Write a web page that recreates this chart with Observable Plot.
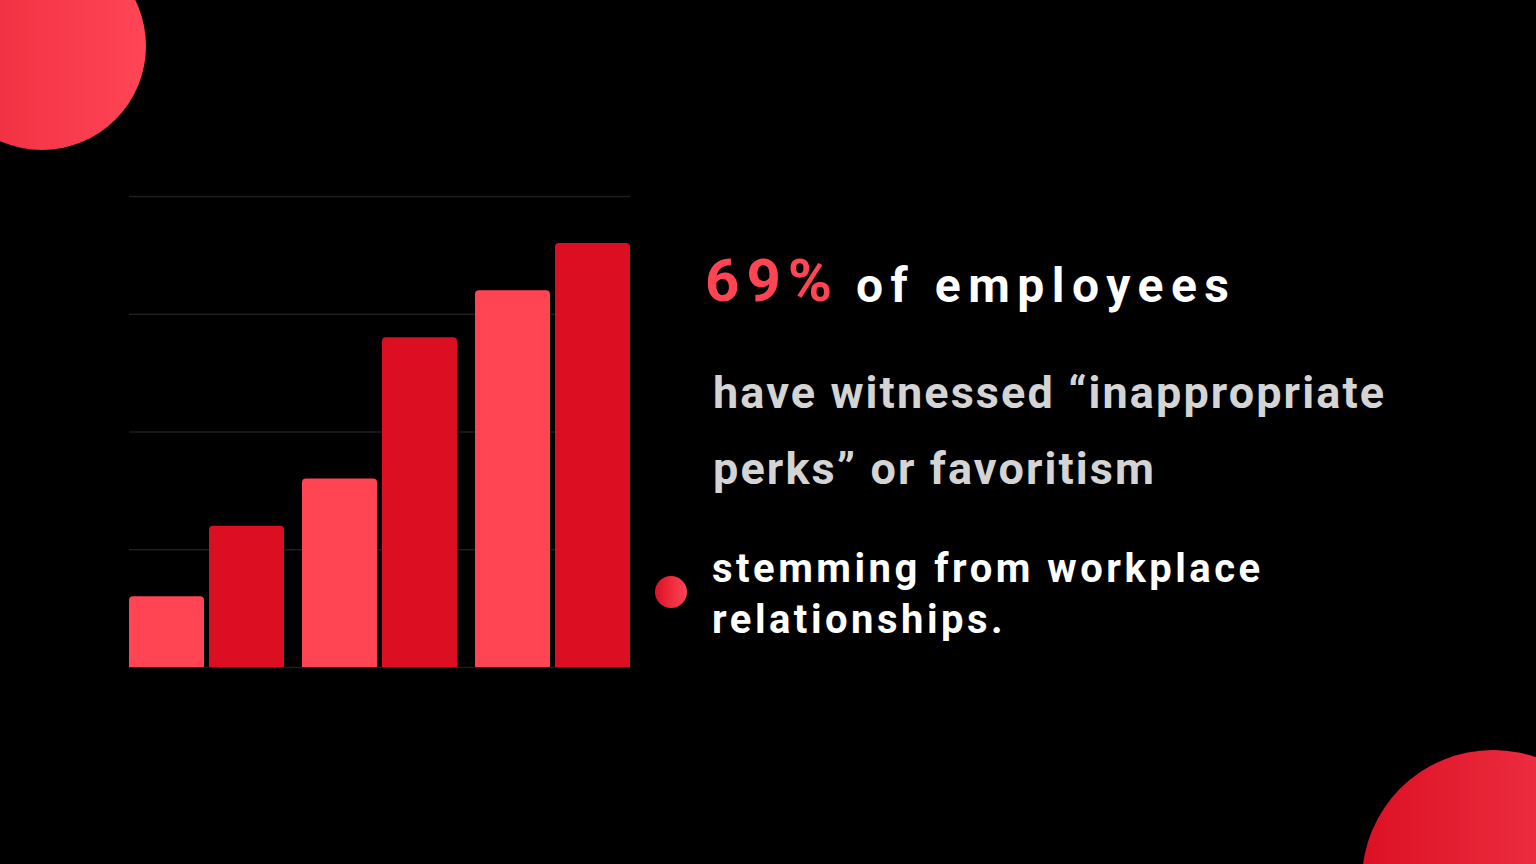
<!DOCTYPE html>
<html>
<head>
<meta charset="utf-8">
<script src="https://cdn.jsdelivr.net/npm/d3@7"></script>
<script src="https://cdn.jsdelivr.net/npm/@observablehq/plot@0.6"></script>
<style>
  html, body { margin: 0; padding: 0; background: #000; }
  body { width: 1536px; height: 864px; position: relative; overflow: hidden; font-family: Roboto, "Noto Sans", sans-serif; }
  .blob { position: absolute; border-radius: 50%; }
  .layer { position: absolute; left: 129px; top: 190px; }
  .t { position: absolute; white-space: nowrap; font-weight: 700; }
</style>
</head>
<body>
<div class="blob" style="left:-62px; top:-58px; width:208px; height:208px; background:linear-gradient(90deg,#EC2A3C,#FF4556);"></div>
<div class="blob" style="left:1362px; top:750px; width:262px; height:262px; background:linear-gradient(90deg,#DC1024,#F4394C);"></div>
<div class="blob" style="left:655px; top:576px; width:32px; height:32px; background:linear-gradient(90deg,#DC1024,#FF4556);"></div>

<div class="t" style="left:705px; top:241px; font-size:60px; line-height:80px; color:#FF4553; letter-spacing:7px;">69%</div>
<div class="t" style="left:856px; top:246px; font-size:48px; line-height:80px; color:#fff; letter-spacing:7.5px;">of employees</div>
<div class="t" style="left:713px; top:355px; font-size:45px; line-height:76px; color:#D4D4D4; letter-spacing:2.1px;">have witnessed “inappropriate<br>perks” or favoritism</div>
<div class="t" style="left:712px; top:543px; font-size:40px; line-height:51px; color:#fff; letter-spacing:3.5px;">stemming from workplace<br>relationships.</div>

<div id="grid" class="layer"></div>
<div id="chart" class="layer"></div>
<script>
const groups = ["A", "A", "B", "B", "C", "C"];
const series = ["light", "dark", "light", "dark", "light", "dark"];
const values = [15, 30, 40, 70, 80, 90];
const gridTicks = [0, 25, 50, 75, 100];

const data = values.map((v, i) => ({group: groups[i], series: series[i], value: v}));

const frame = {
  width: 501,
  height: 484,
  marginTop: 6,
  marginBottom: 7,
  marginLeft: 0,
  marginRight: 0,
  style: {background: "transparent", overflow: "visible"}
};

const grid = Plot.plot({
  ...frame,
  y: {axis: null, domain: [0, 100]},
  marks: [
    Plot.ruleY(gridTicks, {stroke: "#1e1e1e", strokeWidth: 1.5})
  ]
});
document.getElementById("grid").appendChild(grid);

const chart = Plot.plot({
  ...frame,
  fx: {axis: null, paddingInner: 0.10405, paddingOuter: 0, round: false},
  x: {axis: null, domain: ["light", "dark"], paddingInner: 0.0625, paddingOuter: 0, round: false},
  y: {axis: null, domain: [0, 100]},
  color: {domain: ["light", "dark"], range: ["#FF4553", "#DC0E22"]},
  marks: [
    Plot.barY(data, {fx: "group", x: "series", y: "value", fill: "series", rx: 4, insetLeft: 0, insetRight: 0, insetBottom: -8, clip: true})
  ]
});
document.getElementById("chart").appendChild(chart);
</script>
</body>
</html>
